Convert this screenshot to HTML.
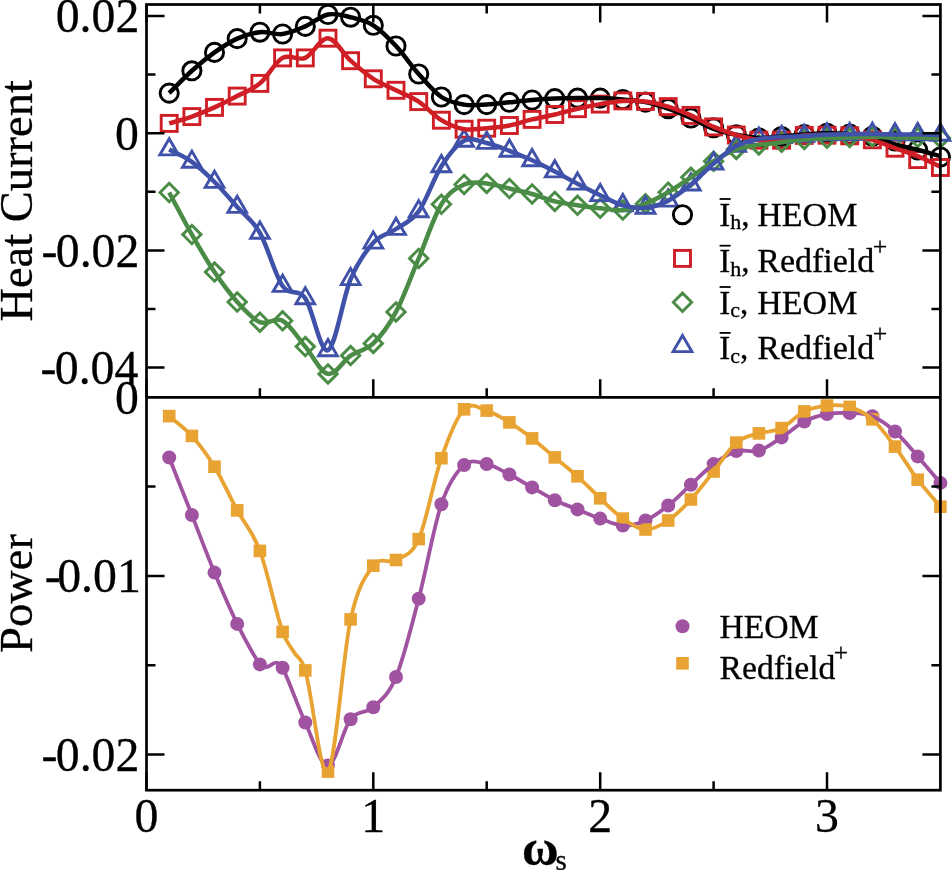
<!DOCTYPE html>
<html><head><meta charset="utf-8"><style>html,body{margin:0;padding:0;background:#fff;overflow:hidden}svg{display:block}</style></head>
<body><svg width="952" height="870" viewBox="0 0 952 870"><rect width="952" height="870" fill="#fff"/><g fill="none" stroke-width="2.9" stroke-linejoin="miter"><g stroke="#000"><circle cx="169.2" cy="93.1" r="9.1"/><circle cx="191.9" cy="70.8" r="9.1"/><circle cx="214.5" cy="52.4" r="9.1"/><circle cx="237.2" cy="38.6" r="9.1"/><circle cx="259.9" cy="32.2" r="9.1"/><circle cx="282.6" cy="34.0" r="9.1"/><circle cx="305.3" cy="26.4" r="9.1"/><circle cx="328.0" cy="14.5" r="9.1"/><circle cx="350.6" cy="17.2" r="9.1"/><circle cx="373.3" cy="25.3" r="9.1"/><circle cx="396.0" cy="46.0" r="9.1"/><circle cx="418.7" cy="74.0" r="9.1"/><circle cx="441.4" cy="97.0" r="9.1"/><circle cx="464.1" cy="104.6" r="9.1"/><circle cx="486.7" cy="104.6" r="9.1"/><circle cx="509.4" cy="102.3" r="9.1"/><circle cx="532.1" cy="100.0" r="9.1"/><circle cx="554.8" cy="98.6" r="9.1"/><circle cx="577.5" cy="98.1" r="9.1"/><circle cx="600.2" cy="98.1" r="9.1"/><circle cx="622.8" cy="99.5" r="9.1"/><circle cx="645.5" cy="102.1" r="9.1"/><circle cx="668.2" cy="108.7" r="9.1"/><circle cx="690.9" cy="118.0" r="9.1"/><circle cx="713.6" cy="127.8" r="9.1"/><circle cx="736.3" cy="134.8" r="9.1"/><circle cx="758.9" cy="138.0" r="9.1"/><circle cx="781.6" cy="136.5" r="9.1"/><circle cx="804.3" cy="134.6" r="9.1"/><circle cx="827.0" cy="133.2" r="9.1"/><circle cx="849.7" cy="134.0" r="9.1"/><circle cx="872.4" cy="136.2" r="9.1"/><circle cx="895.0" cy="141.0" r="9.1"/><circle cx="917.7" cy="150.0" r="9.1"/><circle cx="940.4" cy="157.0" r="9.1"/></g><g stroke="#d01e26"><rect x="161.2" y="115.4" width="16.0" height="16.0"/><rect x="183.9" y="108.6" width="16.0" height="16.0"/><rect x="206.5" y="99.4" width="16.0" height="16.0"/><rect x="229.2" y="88.1" width="16.0" height="16.0"/><rect x="251.9" y="75.4" width="16.0" height="16.0"/><rect x="274.6" y="49.9" width="16.0" height="16.0"/><rect x="297.3" y="49.9" width="16.0" height="16.0"/><rect x="320.0" y="30.2" width="16.0" height="16.0"/><rect x="342.6" y="52.7" width="16.0" height="16.0"/><rect x="365.3" y="70.8" width="16.0" height="16.0"/><rect x="388.0" y="82.3" width="16.0" height="16.0"/><rect x="410.7" y="93.6" width="16.0" height="16.0"/><rect x="433.4" y="112.2" width="16.0" height="16.0"/><rect x="456.1" y="121.2" width="16.0" height="16.0"/><rect x="478.7" y="120.2" width="16.0" height="16.0"/><rect x="501.4" y="117.5" width="16.0" height="16.0"/><rect x="524.1" y="111.4" width="16.0" height="16.0"/><rect x="546.8" y="106.5" width="16.0" height="16.0"/><rect x="569.5" y="100.7" width="16.0" height="16.0"/><rect x="592.2" y="96.1" width="16.0" height="16.0"/><rect x="614.8" y="92.9" width="16.0" height="16.0"/><rect x="637.5" y="93.4" width="16.0" height="16.0"/><rect x="660.2" y="98.6" width="16.0" height="16.0"/><rect x="682.9" y="107.4" width="16.0" height="16.0"/><rect x="705.6" y="118.9" width="16.0" height="16.0"/><rect x="728.3" y="127.0" width="16.0" height="16.0"/><rect x="750.9" y="132.2" width="16.0" height="16.0"/><rect x="773.6" y="132.2" width="16.0" height="16.0"/><rect x="796.3" y="127.4" width="16.0" height="16.0"/><rect x="819.0" y="127.2" width="16.0" height="16.0"/><rect x="841.7" y="127.8" width="16.0" height="16.0"/><rect x="864.4" y="131.8" width="16.0" height="16.0"/><rect x="887.0" y="140.2" width="16.0" height="16.0"/><rect x="909.7" y="151.6" width="16.0" height="16.0"/><rect x="932.4" y="159.5" width="16.0" height="16.0"/></g><g stroke="#4a8c46"><path d="M169.2,183.3L178.4,192.5L169.2,201.7L160.0,192.5Z"/><path d="M191.9,225.4L201.1,234.6L191.9,243.8L182.7,234.6Z"/><path d="M214.5,262.9L223.7,272.1L214.5,281.3L205.3,272.1Z"/><path d="M237.2,292.8L246.4,302.0L237.2,311.2L228.0,302.0Z"/><path d="M259.9,313.0L269.1,322.2L259.9,331.4L250.7,322.2Z"/><path d="M282.6,311.6L291.8,320.8L282.6,330.0L273.4,320.8Z"/><path d="M305.3,337.4L314.5,346.6L305.3,355.8L296.1,346.6Z"/><path d="M328.0,364.7L337.2,373.9L328.0,383.1L318.8,373.9Z"/><path d="M350.6,346.4L359.8,355.6L350.6,364.8L341.4,355.6Z"/><path d="M373.3,334.2L382.5,343.4L373.3,352.6L364.1,343.4Z"/><path d="M396.0,302.7L405.2,311.9L396.0,321.1L386.8,311.9Z"/><path d="M418.7,249.2L427.9,258.4L418.7,267.6L409.5,258.4Z"/><path d="M441.4,195.1L450.6,204.3L441.4,213.5L432.2,204.3Z"/><path d="M464.1,175.3L473.3,184.5L464.1,193.7L454.9,184.5Z"/><path d="M486.7,174.2L495.9,183.4L486.7,192.6L477.5,183.4Z"/><path d="M509.4,179.3L518.6,188.5L509.4,197.7L500.2,188.5Z"/><path d="M532.1,184.8L541.3,194.0L532.1,203.2L522.9,194.0Z"/><path d="M554.8,192.2L564.0,201.4L554.8,210.6L545.6,201.4Z"/><path d="M577.5,196.1L586.7,205.3L577.5,214.5L568.3,205.3Z"/><path d="M600.2,199.1L609.4,208.3L600.2,217.5L591.0,208.3Z"/><path d="M622.8,200.9L632.0,210.1L622.8,219.3L613.6,210.1Z"/><path d="M645.5,194.5L654.7,203.7L645.5,212.9L636.3,203.7Z"/><path d="M668.2,183.0L677.4,192.2L668.2,201.4L659.0,192.2Z"/><path d="M690.9,168.1L700.1,177.3L690.9,186.5L681.7,177.3Z"/><path d="M713.6,152.0L722.8,161.2L713.6,170.4L704.4,161.2Z"/><path d="M736.3,140.2L745.5,149.4L736.3,158.6L727.1,149.4Z"/><path d="M758.9,135.7L768.1,144.9L758.9,154.1L749.7,144.9Z"/><path d="M781.6,133.1L790.8,142.3L781.6,151.5L772.4,142.3Z"/><path d="M804.3,130.2L813.5,139.4L804.3,148.6L795.1,139.4Z"/><path d="M827.0,129.1L836.2,138.3L827.0,147.5L817.8,138.3Z"/><path d="M849.7,128.4L858.9,137.6L849.7,146.8L840.5,137.6Z"/><path d="M872.4,127.6L881.6,136.8L872.4,146.0L863.2,136.8Z"/><path d="M895.0,128.4L904.2,137.6L895.0,146.8L885.8,137.6Z"/><path d="M917.7,128.4L926.9,137.6L917.7,146.8L908.5,137.6Z"/><path d="M940.4,128.8L949.6,138.0L940.4,147.2L931.2,138.0Z"/></g><g stroke="#3f51a8"><path d="M169.2,138.7L178.5,154.9L159.8,154.9Z"/><path d="M191.9,151.1L201.2,167.3L182.5,167.3Z"/><path d="M214.5,171.2L223.9,187.4L205.2,187.4Z"/><path d="M237.2,196.2L246.6,212.4L227.9,212.4Z"/><path d="M259.9,222.0L269.3,238.2L250.6,238.2Z"/><path d="M282.6,275.2L291.9,291.4L273.2,291.4Z"/><path d="M305.3,287.6L314.6,303.8L295.9,303.8Z"/><path d="M328.0,339.5L337.3,355.7L318.6,355.7Z"/><path d="M350.6,268.4L360.0,284.6L341.3,284.6Z"/><path d="M373.3,231.9L382.7,248.1L364.0,248.1Z"/><path d="M396.0,218.2L405.4,234.4L386.7,234.4Z"/><path d="M418.7,200.6L428.0,216.8L409.3,216.8Z"/><path d="M441.4,155.5L450.7,171.7L432.0,171.7Z"/><path d="M464.1,130.0L473.4,146.2L454.7,146.2Z"/><path d="M486.7,132.2L496.1,148.4L477.4,148.4Z"/><path d="M509.4,140.0L518.8,156.2L500.1,156.2Z"/><path d="M532.1,149.5L541.5,165.7L522.8,165.7Z"/><path d="M554.8,160.7L564.1,176.9L545.4,176.9Z"/><path d="M577.5,172.9L586.8,189.1L568.1,189.1Z"/><path d="M600.2,184.4L609.5,200.6L590.8,200.6Z"/><path d="M622.8,194.5L632.2,210.7L613.5,210.7Z"/><path d="M645.5,197.0L654.9,213.2L636.2,213.2Z"/><path d="M668.2,189.9L677.6,206.1L658.9,206.1Z"/><path d="M690.9,173.8L700.2,190.0L681.5,190.0Z"/><path d="M713.6,152.8L722.9,169.0L704.2,169.0Z"/><path d="M736.3,135.2L745.6,151.4L726.9,151.4Z"/><path d="M758.9,128.1L768.3,144.3L749.6,144.3Z"/><path d="M781.6,126.3L791.0,142.5L772.3,142.5Z"/><path d="M804.3,125.2L813.7,141.4L795.0,141.4Z"/><path d="M827.0,123.7L836.3,139.9L817.6,139.9Z"/><path d="M849.7,123.4L859.0,139.6L840.3,139.6Z"/><path d="M872.4,123.2L881.7,139.4L863.0,139.4Z"/><path d="M895.0,123.7L904.4,139.9L885.7,139.9Z"/><path d="M917.7,123.5L927.1,139.7L908.4,139.7Z"/><path d="M940.4,124.1L949.8,140.3L931.0,140.3Z"/></g></g><g fill="none" stroke-width="4.5" stroke-linejoin="round" stroke-linecap="butt"><path d="M169.2,93.1C176.7,85.7 184.3,77.6 191.9,70.8C199.4,64.0 207.0,57.8 214.5,52.4C222.1,47.0 229.7,42.0 237.2,38.6C244.8,35.2 252.4,33.0 259.9,32.2C267.5,31.4 275.0,35.0 282.6,34.0C290.2,33.0 297.7,29.6 305.3,26.4C312.8,23.1 320.4,16.0 328.0,14.5C335.5,13.0 343.1,15.4 350.6,17.2C358.2,19.0 365.8,20.5 373.3,25.3C380.9,30.1 388.5,37.9 396.0,46.0C403.6,54.1 411.1,65.5 418.7,74.0C426.3,82.5 433.8,91.9 441.4,97.0C448.9,102.1 456.5,103.3 464.1,104.6C471.6,105.9 479.2,105.0 486.7,104.6C494.3,104.2 501.9,103.1 509.4,102.3C517.0,101.5 524.5,100.6 532.1,100.0C539.7,99.4 547.2,98.9 554.8,98.6C562.4,98.3 569.9,98.2 577.5,98.1C585.0,98.0 592.6,97.9 600.2,98.1C607.7,98.3 615.3,98.8 622.8,99.5C630.4,100.2 638.0,100.6 645.5,102.1C653.1,103.6 660.6,106.1 668.2,108.7C675.8,111.4 683.3,114.6 690.9,118.0C698.4,121.4 706.0,126.2 713.6,129.0C721.1,131.8 728.7,133.3 736.3,134.8C743.8,136.3 751.4,137.7 758.9,138.0C766.5,138.3 774.1,137.1 781.6,136.5C789.2,135.9 796.7,135.2 804.3,134.6C811.9,134.0 819.4,133.3 827.0,133.2C834.5,133.1 842.1,133.5 849.7,134.0C857.2,134.5 864.8,134.4 872.4,136.2C879.9,137.9 887.5,142.2 895.0,144.5C902.6,146.8 910.2,147.9 917.7,149.8C925.3,151.8 932.8,154.1 940.4,156.2" stroke="#000"/><path d="M169.2,123.4C176.7,121.1 184.3,119.3 191.9,116.6C199.4,113.9 207.0,110.8 214.5,107.4C222.1,104.0 229.7,100.1 237.2,96.1C244.8,92.1 252.4,89.8 259.9,83.4C267.5,77.0 275.0,62.1 282.6,57.9C290.2,53.6 297.7,61.2 305.3,57.9C312.8,54.6 320.4,37.7 328.0,38.2C335.5,38.7 343.1,53.9 350.6,60.7C358.2,67.5 365.8,73.9 373.3,78.8C380.9,83.7 388.5,86.5 396.0,90.3C403.6,94.1 411.1,96.6 418.7,101.6C426.3,106.6 433.8,115.6 441.4,120.2C448.9,124.8 456.5,127.9 464.1,129.2C471.6,130.5 479.2,128.8 486.7,128.2C494.3,127.6 501.9,127.0 509.4,125.5C517.0,124.0 524.5,121.2 532.1,119.4C539.7,117.6 547.2,116.3 554.8,114.5C562.4,112.7 569.9,110.4 577.5,108.7C585.0,107.0 592.6,105.4 600.2,104.1C607.7,102.8 615.3,101.4 622.8,100.9C630.4,100.5 638.0,100.5 645.5,101.4C653.1,102.3 660.6,104.3 668.2,106.6C675.8,108.9 683.3,112.0 690.9,115.4C698.4,118.8 706.0,123.6 713.6,126.9C721.1,130.2 728.7,132.8 736.3,135.0C743.8,137.2 751.4,139.3 758.9,140.2C766.5,141.1 774.1,141.0 781.6,140.2C789.2,139.4 796.7,136.2 804.3,135.4C811.9,134.6 819.4,135.1 827.0,135.2C834.5,135.3 842.1,135.0 849.7,135.8C857.2,136.6 864.8,137.7 872.4,139.8C879.9,141.9 887.5,145.5 895.0,148.2C902.6,150.9 910.2,153.1 917.7,156.2C925.3,159.3 932.8,163.3 940.4,166.8" stroke="#d01e26"/><path d="M169.2,192.5C176.7,206.5 184.3,221.3 191.9,234.6C199.4,247.9 207.0,260.9 214.5,272.1C222.1,283.3 229.7,293.6 237.2,302.0C244.8,310.3 252.4,319.1 259.9,322.2C267.5,325.3 275.0,316.7 282.6,320.8C290.2,324.9 297.7,337.8 305.3,346.6C312.8,355.5 320.4,372.4 328.0,373.9C335.5,375.4 343.1,360.7 350.6,355.6C358.2,350.5 365.8,350.7 373.3,343.4C380.9,336.1 388.5,326.1 396.0,311.9C403.6,297.7 411.1,276.3 418.7,258.4C426.3,240.5 433.8,216.6 441.4,204.3C448.9,192.0 456.5,188.0 464.1,184.5C471.6,181.0 479.2,182.7 486.7,183.4C494.3,184.1 501.9,186.7 509.4,188.5C517.0,190.3 524.5,191.8 532.1,194.0C539.7,196.2 547.2,199.5 554.8,201.4C562.4,203.3 569.9,204.2 577.5,205.3C585.0,206.5 592.6,207.5 600.2,208.3C607.7,209.1 615.3,210.9 622.8,210.1C630.4,209.3 638.0,206.7 645.5,203.7C653.1,200.7 660.6,196.6 668.2,192.2C675.8,187.8 683.3,182.5 690.9,177.3C698.4,172.1 706.0,165.8 713.6,161.2C721.1,156.5 728.7,152.1 736.3,149.4C743.8,146.7 751.4,146.1 758.9,144.9C766.5,143.7 774.1,143.2 781.6,142.3C789.2,141.4 796.7,140.1 804.3,139.4C811.9,138.7 819.4,138.6 827.0,138.3C834.5,138.0 842.1,137.8 849.7,137.6C857.2,137.3 864.8,136.8 872.4,136.8C879.9,136.8 887.5,137.5 895.0,137.6C902.6,137.7 910.2,137.5 917.7,137.6C925.3,137.7 932.8,137.9 940.4,138.0" stroke="#4a8c46"/><path d="M169.2,149.5C176.7,153.6 184.3,156.5 191.9,161.9C199.4,167.3 207.0,174.5 214.5,182.0C222.1,189.5 229.7,198.5 237.2,207.0C244.8,215.5 252.4,219.6 259.9,232.8C267.5,246.0 275.0,275.1 282.6,286.0C290.2,296.9 297.7,287.7 305.3,298.4C312.8,309.1 320.4,353.5 328.0,350.3C335.5,347.1 343.1,297.1 350.6,279.2C358.2,261.3 365.8,251.1 373.3,242.7C380.9,234.3 388.5,234.2 396.0,229.0C403.6,223.8 411.1,221.8 418.7,211.4C426.3,200.9 433.8,178.1 441.4,166.3C448.9,154.5 456.5,144.7 464.1,140.8C471.6,136.9 479.2,141.3 486.7,143.0C494.3,144.7 501.9,147.9 509.4,150.8C517.0,153.7 524.5,156.9 532.1,160.3C539.7,163.8 547.2,167.6 554.8,171.5C562.4,175.4 569.9,179.8 577.5,183.7C585.0,187.7 592.6,191.6 600.2,195.2C607.7,198.8 615.3,203.2 622.8,205.3C630.4,207.4 638.0,208.6 645.5,207.8C653.1,207.0 660.6,204.6 668.2,200.7C675.8,196.8 683.3,190.8 690.9,184.6C698.4,178.4 706.0,170.0 713.6,163.6C721.1,157.2 728.7,150.1 736.3,146.0C743.8,141.9 751.4,140.4 758.9,138.9C766.5,137.4 774.1,137.6 781.6,137.1C789.2,136.6 796.7,136.4 804.3,136.0C811.9,135.6 819.4,134.8 827.0,134.5C834.5,134.2 842.1,134.3 849.7,134.2C857.2,134.1 864.8,133.9 872.4,134.0C879.9,134.1 887.5,134.4 895.0,134.5C902.6,134.6 910.2,134.2 917.7,134.3C925.3,134.4 932.8,134.7 940.4,134.9" stroke="#3f51a8"/></g><g fill="#a053a0"><circle cx="169.2" cy="457.5" r="7"/><circle cx="191.9" cy="515.0" r="7"/><circle cx="214.5" cy="572.6" r="7"/><circle cx="237.2" cy="623.9" r="7"/><circle cx="259.9" cy="664.4" r="7"/><circle cx="282.6" cy="667.8" r="7"/><circle cx="305.3" cy="722.5" r="7"/><circle cx="328.0" cy="765.5" r="7"/><circle cx="350.6" cy="719.2" r="7"/><circle cx="373.3" cy="707.2" r="7"/><circle cx="396.0" cy="677.0" r="7"/><circle cx="418.7" cy="598.8" r="7"/><circle cx="441.4" cy="504.2" r="7"/><circle cx="464.1" cy="465.1" r="7"/><circle cx="486.7" cy="464.0" r="7"/><circle cx="509.4" cy="474.5" r="7"/><circle cx="532.1" cy="487.4" r="7"/><circle cx="554.8" cy="500.2" r="7"/><circle cx="577.5" cy="509.4" r="7"/><circle cx="600.2" cy="518.6" r="7"/><circle cx="622.8" cy="525.6" r="7"/><circle cx="645.5" cy="520.5" r="7"/><circle cx="668.2" cy="505.5" r="7"/><circle cx="690.9" cy="484.7" r="7"/><circle cx="713.6" cy="464.1" r="7"/><circle cx="736.3" cy="451.1" r="7"/><circle cx="758.9" cy="450.6" r="7"/><circle cx="781.6" cy="437.4" r="7"/><circle cx="804.3" cy="421.5" r="7"/><circle cx="827.0" cy="414.1" r="7"/><circle cx="849.7" cy="413.0" r="7"/><circle cx="872.4" cy="416.2" r="7"/><circle cx="895.0" cy="431.5" r="7"/><circle cx="917.7" cy="456.4" r="7"/><circle cx="940.4" cy="482.9" r="7"/></g><g fill="#e8a332"><rect x="162.9" y="409.8" width="12.6" height="12.6"/><rect x="185.6" y="429.6" width="12.6" height="12.6"/><rect x="208.2" y="460.4" width="12.6" height="12.6"/><rect x="230.9" y="504.1" width="12.6" height="12.6"/><rect x="253.6" y="544.6" width="12.6" height="12.6"/><rect x="276.3" y="625.6" width="12.6" height="12.6"/><rect x="299.0" y="664.1" width="12.6" height="12.6"/><rect x="321.7" y="765.3" width="12.6" height="12.6"/><rect x="344.3" y="613.1" width="12.6" height="12.6"/><rect x="367.0" y="559.4" width="12.6" height="12.6"/><rect x="389.7" y="553.7" width="12.6" height="12.6"/><rect x="412.4" y="532.8" width="12.6" height="12.6"/><rect x="435.1" y="451.9" width="12.6" height="12.6"/><rect x="457.8" y="403.0" width="12.6" height="12.6"/><rect x="480.4" y="404.3" width="12.6" height="12.6"/><rect x="503.1" y="416.1" width="12.6" height="12.6"/><rect x="525.8" y="432.1" width="12.6" height="12.6"/><rect x="548.5" y="451.1" width="12.6" height="12.6"/><rect x="571.2" y="470.0" width="12.6" height="12.6"/><rect x="593.9" y="492.0" width="12.6" height="12.6"/><rect x="616.5" y="512.3" width="12.6" height="12.6"/><rect x="639.2" y="523.2" width="12.6" height="12.6"/><rect x="661.9" y="514.2" width="12.6" height="12.6"/><rect x="684.6" y="493.2" width="12.6" height="12.6"/><rect x="707.3" y="465.2" width="12.6" height="12.6"/><rect x="730.0" y="436.3" width="12.6" height="12.6"/><rect x="752.6" y="427.1" width="12.6" height="12.6"/><rect x="775.3" y="421.8" width="12.6" height="12.6"/><rect x="798.0" y="405.1" width="12.6" height="12.6"/><rect x="820.7" y="399.3" width="12.6" height="12.6"/><rect x="843.4" y="400.6" width="12.6" height="12.6"/><rect x="866.1" y="413.1" width="12.6" height="12.6"/><rect x="888.7" y="440.3" width="12.6" height="12.6"/><rect x="911.4" y="473.4" width="12.6" height="12.6"/><rect x="934.1" y="500.4" width="12.6" height="12.6"/></g><g fill="none" stroke-width="3.8" stroke-linejoin="round"><path d="M169.2,457.5C176.7,476.7 184.3,495.8 191.9,515.0C199.4,534.2 207.0,554.5 214.5,572.6C222.1,590.8 229.7,608.6 237.2,623.9C244.8,639.2 252.4,653.4 259.9,664.4C262.2,667.7 264.5,667.2 266.8,667.0C269.9,666.7 272.9,662.5 276.0,662.7C278.2,662.8 280.4,663.3 282.6,667.8C290.2,683.2 297.7,706.2 305.3,722.5C312.8,738.8 320.4,766.0 328.0,765.5C335.5,765.0 343.1,728.9 350.6,719.2C358.2,709.5 365.8,714.2 373.3,707.2C380.9,700.2 388.5,695.1 396.0,677.0C403.6,658.9 411.1,627.6 418.7,598.8C426.3,570.0 433.8,526.5 441.4,504.2C448.9,481.9 456.5,471.8 464.1,465.1C471.6,458.4 479.2,462.4 486.7,464.0C494.3,465.6 501.9,470.6 509.4,474.5C517.0,478.4 524.5,483.1 532.1,487.4C539.7,491.7 547.2,496.5 554.8,500.2C562.4,503.9 569.9,506.3 577.5,509.4C585.0,512.5 592.6,515.9 600.2,518.6C607.7,521.3 615.3,525.3 622.8,525.6C630.4,525.9 638.0,523.9 645.5,520.5C653.1,517.1 660.6,511.5 668.2,505.5C675.8,499.5 683.3,491.6 690.9,484.7C698.4,477.8 706.0,469.7 713.6,464.1C721.1,458.5 728.7,453.4 736.3,451.1C743.8,448.9 751.4,452.9 758.9,450.6C766.5,448.3 774.1,442.2 781.6,437.4C789.2,432.5 796.7,425.4 804.3,421.5C811.9,417.6 819.4,415.5 827.0,414.1C834.5,412.7 842.1,412.6 849.7,413.0C857.2,413.4 864.8,413.1 872.4,416.2C879.9,419.3 887.5,424.8 895.0,431.5C902.6,438.2 910.2,447.8 917.7,456.4C925.3,465.0 932.8,474.1 940.4,482.9" stroke="#a053a0"/><path d="M169.2,416.1C176.7,422.7 184.3,427.5 191.9,435.9C199.4,444.3 207.0,454.3 214.5,466.7C222.1,479.1 229.7,496.4 237.2,510.4C244.8,524.4 252.4,530.6 259.9,550.9C267.5,571.1 275.0,609.4 282.6,631.9C286.4,643.1 290.1,645.6 293.9,652.0C297.7,658.4 301.5,657.1 305.3,670.4C312.8,696.9 320.4,780.1 328.0,771.6C335.5,763.1 343.1,653.7 350.6,619.4C358.2,585.1 365.8,575.6 373.3,565.7C380.9,555.8 388.5,564.4 396.0,560.0C403.6,555.6 411.1,556.1 418.7,539.1C426.3,522.1 433.8,479.8 441.4,458.2C448.9,436.6 456.5,417.2 464.1,409.3C471.6,401.4 479.2,408.4 486.7,410.6C494.3,412.8 501.9,417.8 509.4,422.4C517.0,427.0 524.5,432.6 532.1,438.4C539.7,444.2 547.2,451.1 554.8,457.4C562.4,463.7 569.9,469.5 577.5,476.3C585.0,483.1 592.6,491.2 600.2,498.3C607.7,505.4 615.3,513.4 622.8,518.6C630.4,523.8 638.0,529.2 645.5,529.5C653.1,529.8 660.6,525.5 668.2,520.5C675.8,515.5 683.3,507.7 690.9,499.5C698.4,491.3 706.0,481.0 713.6,471.5C721.1,462.0 728.7,449.0 736.3,442.6C743.8,436.2 751.4,435.8 758.9,433.4C766.5,431.0 774.1,431.8 781.6,428.1C789.2,424.4 796.7,415.1 804.3,411.4C811.9,407.6 819.4,406.4 827.0,405.6C834.5,404.9 842.1,404.6 849.7,406.9C857.2,409.2 864.8,412.8 872.4,419.4C879.9,426.0 887.5,436.6 895.0,446.6C902.6,456.7 910.2,469.7 917.7,479.7C925.3,489.7 932.8,497.7 940.4,506.7" stroke="#e8a332"/></g><g fill="none" stroke="#000" stroke-width="2.7"><rect x="146.5" y="4.5" width="793.9" height="785.7"/><path d="M146.5,397.3H940.4"/></g><path d="M146.5,4.5v18M146.5,397.3v-18M146.5,790.2v-18M259.9,4.5v9M259.9,397.3v-9M259.9,790.2v-9M373.3,4.5v18M373.3,397.3v-18M373.3,790.2v-18M486.7,4.5v9M486.7,397.3v-9M486.7,790.2v-9M600.2,4.5v18M600.2,397.3v-18M600.2,790.2v-18M713.6,4.5v9M713.6,397.3v-9M713.6,790.2v-9M827.0,4.5v18M827.0,397.3v-18M827.0,790.2v-18M146.5,367.6h18M940.4,367.6h-18M146.5,309.0h9M940.4,309.0h-9M146.5,250.4h18M940.4,250.4h-18M146.5,191.8h9M940.4,191.8h-9M146.5,133.2h18M940.4,133.2h-18M146.5,74.6h9M940.4,74.6h-9M146.5,16.0h18M940.4,16.0h-18M146.5,754.5h18M940.4,754.5h-18M146.5,665.2h9M940.4,665.2h-9M146.5,575.9h18M940.4,575.9h-18M146.5,486.6h9M940.4,486.6h-9" stroke="#000" stroke-width="2.5" fill="none"/><g style="font-family:'Liberation Serif','Times New Roman',serif;font-size:47.8px" fill="#000" stroke="#000" stroke-width="0.3"><text x="139.3" y="32.3" text-anchor="end">0.02</text><text x="138.8" y="149.5" text-anchor="end">0</text><text x="139.4" y="266.7" text-anchor="end">-<tspan dx="-1.6">0.02</tspan></text><text x="138.4" y="383.9" text-anchor="end">-<tspan dx="-1.6">0.04</tspan></text><text x="138.8" y="413.6" text-anchor="end">0</text><text x="140.8" y="592.2" text-anchor="end">-<tspan dx="-3.5">0.01</tspan></text><text x="139.4" y="770.8" text-anchor="end">-<tspan dx="-1.6">0.02</tspan></text><text x="146.5" y="831.5" text-anchor="middle">0</text><text x="373.3" y="831.5" text-anchor="middle">1</text><text x="600.2" y="831.5" text-anchor="middle">2</text><text x="827.0" y="831.5" text-anchor="middle">3</text></g><g style="font-family:'Liberation Serif','Times New Roman',serif;font-size:46.5px" fill="#000" stroke="#000" stroke-width="0.3"><text transform="translate(32,200.9) rotate(-90)" text-anchor="middle">Heat Current</text><text transform="translate(32,593.5) rotate(-90)" text-anchor="middle">Power</text><text x="522" y="865" font-size="50" font-weight="bold">ω</text><text x="555.5" y="870.2" font-size="29">s</text></g><g fill="none" stroke-width="2.9"><circle cx="682.5" cy="214.7" r="9.1" stroke="#000"/><rect x="674.5" y="250.39999999999998" width="16" height="16" stroke="#d01e26"/><path d="M682.5,293.1l9.2,9.2l-9.2,9.2l-9.2,-9.2z" stroke="#4a8c46"/><g stroke="#3f51a8"><path d="M682.5,335.4L691.9,351.6L673.1,351.6Z"/></g></g><circle cx="682.5" cy="626.2" r="7" fill="#a053a0"/><rect x="676.2" y="657.0" width="12.6" height="12.6" fill="#e8a332"/><g style="font-family:'Liberation Serif','Times New Roman',serif;font-size:33px" fill="#000" stroke="#000" stroke-width="0.3"><text x="719.2" y="225.5">I<tspan font-size="22" dy="3.8">h</tspan><tspan dy="-3.8">,</tspan></text><path d="M719.6,199.0h11" stroke="#000" stroke-width="1.8"/><text transform="translate(757.3,225.5) scale(1.03,1)">HEOM</text><text x="719.2" y="272.2">I<tspan font-size="22" dy="3.8">h</tspan><tspan dy="-3.8">,</tspan></text><path d="M719.6,245.7h11" stroke="#000" stroke-width="1.8"/><text transform="translate(757.3,272.2) scale(1.03,1)">Redfield<tspan font-size="25" dx="-1.4" dy="-17">+</tspan></text><text x="719.2" y="313.5">I<tspan font-size="22" dy="3.8">c</tspan><tspan dy="-3.8">,</tspan></text><path d="M719.6,287.0h11" stroke="#000" stroke-width="1.8"/><text transform="translate(757.3,313.5) scale(1.03,1)">HEOM</text><text x="719.2" y="359.4">I<tspan font-size="22" dy="3.8">c</tspan><tspan dy="-3.8">,</tspan></text><path d="M719.6,332.9h11" stroke="#000" stroke-width="1.8"/><text transform="translate(757.3,359.4) scale(1.03,1)">Redfield<tspan font-size="25" dx="-1.4" dy="-17">+</tspan></text><text transform="translate(719.5,637.7) scale(1.02,1)">HEOM</text><text transform="translate(719.5,678.6) scale(1.02,1)">Redfield<tspan font-size="25" dx="-1.5" dy="-17.5">+</tspan></text></g></svg></body></html>
